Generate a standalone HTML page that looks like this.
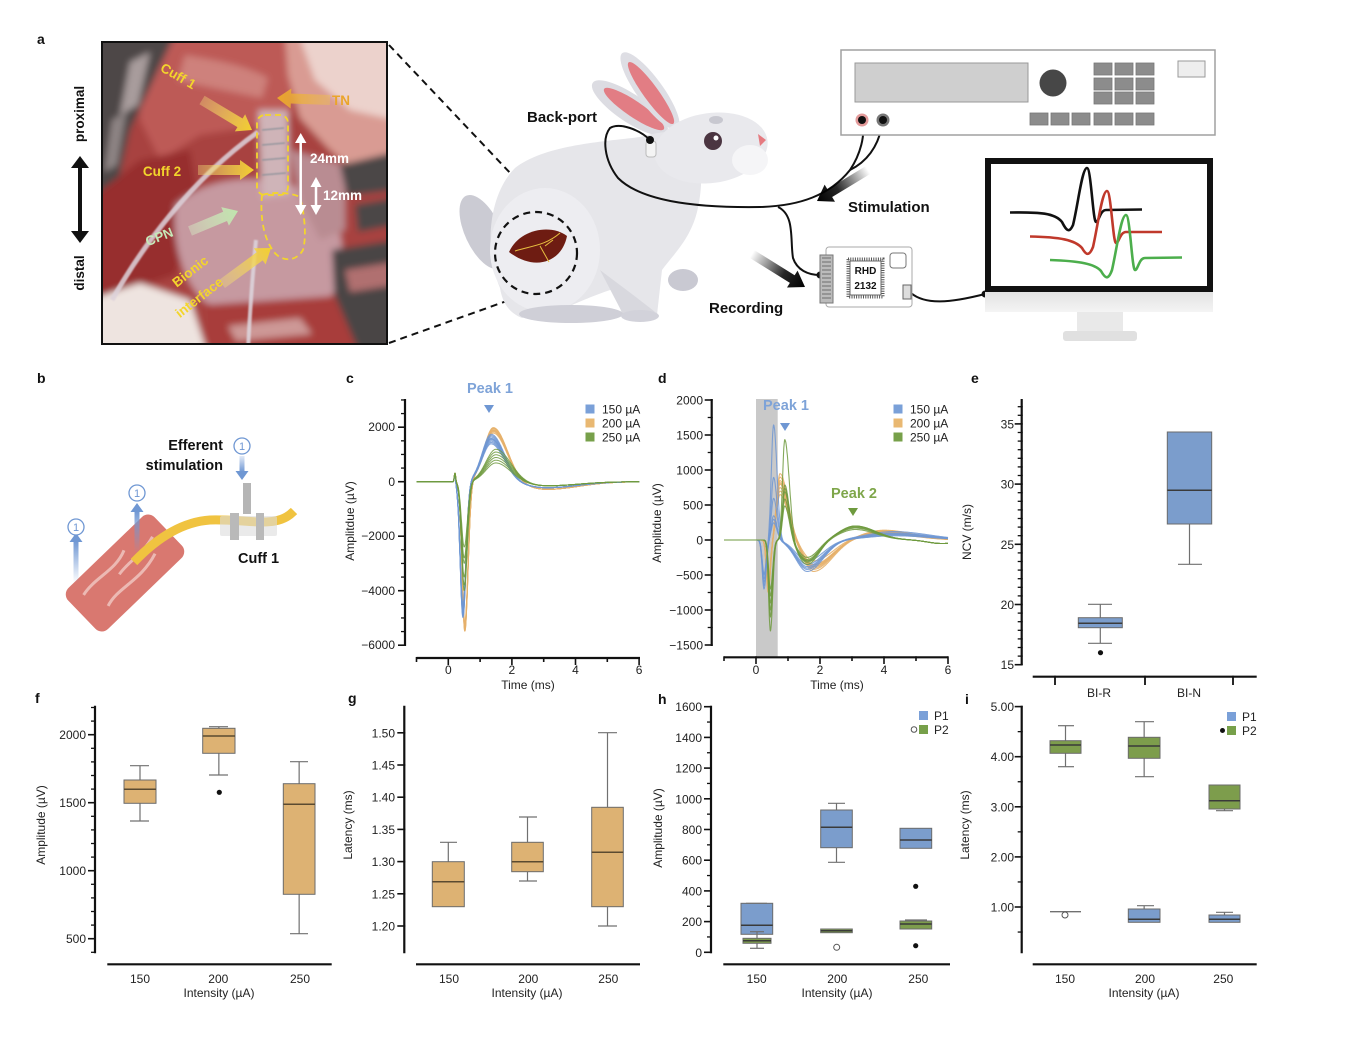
<!DOCTYPE html>
<html><head><meta charset="utf-8">
<style>
html,body{margin:0;padding:0;background:#fff;}
svg{display:block;font-family:"Liberation Sans",Arial,sans-serif;}
.tk{font-size:12px;fill:#222;}
.pl{font-size:14px;font-weight:bold;fill:#111;}
.at{font-size:12px;fill:#222;}
.bb{font-weight:bold;fill:#111;}
</style></head><body>
<svg id="S" width="1350" height="1038" viewBox="0 0 1350 1038" xmlns="http://www.w3.org/2000/svg">
<defs>
<clipPath id="ph"><rect x="102" y="42" width="285" height="302"/></clipPath>
<filter id="bl" x="-10%" y="-10%" width="120%" height="120%"><feGaussianBlur stdDeviation="3.5"/></filter>
<filter id="bl1"><feGaussianBlur stdDeviation="0.8"/></filter>
<linearGradient id="gy" x1="0" y1="0" x2="1" y2="0"><stop offset="0" stop-color="#f6e27a" stop-opacity=".35"/><stop offset="1" stop-color="#f3cf2e"/></linearGradient>
<linearGradient id="go" x1="0" y1="0" x2="1" y2="0"><stop offset="0" stop-color="#f0c24a" stop-opacity=".4"/><stop offset="1" stop-color="#eaa52a"/></linearGradient>
<linearGradient id="gg" x1="0" y1="0" x2="1" y2="0"><stop offset="0" stop-color="#d8f2c8" stop-opacity=".4"/><stop offset="1" stop-color="#bfe6ad"/></linearGradient>
<linearGradient id="gk" x1="0" y1="0" x2="1" y2="0"><stop offset="0" stop-color="#000" stop-opacity="0"/><stop offset=".6" stop-color="#000" stop-opacity=".85"/><stop offset="1" stop-color="#000"/></linearGradient>
<linearGradient id="gbU" x1="0" y1="1" x2="0" y2="0"><stop offset="0" stop-color="#6f97d3" stop-opacity="0"/><stop offset="1" stop-color="#6f97d3"/></linearGradient>
<linearGradient id="gbD" x1="0" y1="0" x2="0" y2="1"><stop offset="0" stop-color="#6f97d3" stop-opacity=".2"/><stop offset="1" stop-color="#6f97d3"/></linearGradient>
<linearGradient id="mb" x1="0" y1="0" x2="0" y2="1"><stop offset="0" stop-color="#e2e2e2"/><stop offset="1" stop-color="#f4f4f4"/></linearGradient>
</defs>
<rect width="1350" height="1038" fill="#fff"/>

<!-- ================= PANEL A PHOTO ================= -->
<g clip-path="url(#ph)">
 <g filter="url(#bl)">
  <rect x="95" y="35" width="300" height="320" fill="#a8423f"/>
  <path d="M140,35 L295,35 L292,115 L265,125 L200,135 L160,160 L140,120 Z" fill="#bd5a57"/>
  <path d="M185,55 C215,60 245,65 268,78 L262,98 C232,92 202,86 178,80 Z" fill="#d5928a" opacity=".7"/>
  <path d="M285,35 L395,35 L395,185 L360,175 L330,150 L300,118 L288,75 Z" fill="#d99b93"/>
  <path d="M300,38 L395,38 L395,120 L350,110 L315,80 Z" fill="#ecd2cc"/>
  <path d="M95,35 L175,35 L158,70 L130,130 L115,195 L95,205 Z" fill="#4d4747"/>
  <path d="M130,62 L150,52 L138,105 L120,115 Z" fill="#a89c9c"/>
  <path d="M112,120 L126,112 L117,165 L104,172 Z" fill="#8e8484"/>
  <path d="M95,195 L140,160 L190,150 L200,210 L175,275 L125,292 L95,300 Z" fill="#972f2d"/>
  <path d="M175,205 C205,178 255,172 300,188 C340,202 352,250 335,292 C305,322 240,322 205,302 C183,282 172,245 175,205 Z" fill="#c699a0"/>
  <path d="M290,150 L345,165 L345,230 L320,240 L300,200 Z" fill="#b98c92"/>
  <path d="M340,165 L395,152 L395,190 L347,196 Z" fill="#4c4646"/>
  <path d="M355,205 L395,198 L395,225 L358,232 Z" fill="#4c4646"/>
  <path d="M332,250 L395,240 L395,355 L360,355 L335,305 Z" fill="#4a4444"/>
  <path d="M345,270 L395,262 L395,285 L350,292 Z" fill="#b07070"/>
  <path d="M95,298 L140,283 L190,300 L208,355 L95,355 Z" fill="#eee4e0"/>
  <path d="M205,305 L335,296 L360,355 L208,355 Z" fill="#a83e3b"/>
  <path d="M228,326 L300,318 L312,334 L236,341 Z" fill="#e6d6d4" opacity=".6"/>
  <path d="M258,110 L288,110 L290,195 L262,198 Z" fill="#cfb4b8"/>
 </g>
 <g filter="url(#bl1)">
  <path d="M112,300 C140,250 190,180 258,132" stroke="#ddd2da" stroke-width="5" fill="none" opacity=".85"/>
  <path d="M256,240 C252,280 250,310 248,350" stroke="#ddd6de" stroke-width="4" fill="none" opacity=".85"/>
  <path d="M262,130 L284,128 M262,145 L285,143 M262,160 L286,158 M262,175 L286,173" stroke="#8a9098" stroke-width="1.2"/>
 </g>
</g>
<rect x="102" y="42" width="285" height="302" fill="none" stroke="#111" stroke-width="2"/>
<g id="pa"></g>
<!-- dashed outlines -->
<rect x="257" y="115" width="31" height="80" rx="8" fill="none" stroke="#f3d52c" stroke-width="1.8" stroke-dasharray="6,4"/>
<path d="M262,195 C260,215 263,238 274,252 C282,262 296,262 303,250 C307,235 304,212 300,197 C290,192 272,192 262,195 Z" fill="none" stroke="#f3d52c" stroke-width="1.8" stroke-dasharray="6,4"/>
<!-- white double arrows -->
<g fill="#fff" stroke="#fff">
 <line x1="300.7" y1="140" x2="300.7" y2="208" stroke-width="2.5"/>
 <polygon points="295,143 306.4,143 300.7,133" stroke="none"/>
 <polygon points="295,205 306.4,205 300.7,215" stroke="none"/>
 <line x1="316" y1="184" x2="316" y2="208" stroke-width="2.5"/>
 <polygon points="310.5,187 321.5,187 316,177" stroke="none"/>
 <polygon points="310.5,205 321.5,205 316,215" stroke="none"/>
</g>
<text x="310" y="163" font-size="13.5" font-weight="bold" fill="#fff">24mm</text>
<text x="323" y="200" font-size="13.5" font-weight="bold" fill="#fff">12mm</text>
<text transform="translate(176,80) rotate(30)" text-anchor="middle" font-size="13.5" font-weight="bold" fill="#f3d52c">Cuff 1</text>
<text x="341" y="105" text-anchor="middle" font-size="13.5" font-weight="bold" fill="#eaa52a">TN</text>
<text x="162" y="176" text-anchor="middle" font-size="13.5" font-weight="bold" fill="#f3d52c">Cuff 2</text>
<text transform="translate(161,241) rotate(-22)" text-anchor="middle" font-size="13.5" font-weight="bold" fill="#c6e8b8">CPN</text>
<text transform="translate(193,275) rotate(-38)" text-anchor="middle" font-size="13.5" font-weight="bold" fill="#f3d52c">Bionic</text>
<text transform="translate(202,301) rotate(-38)" text-anchor="middle" font-size="13.5" font-weight="bold" fill="#f3d52c">interface</text>
<!-- proximal / distal -->
<text transform="translate(84,114) rotate(-90)" text-anchor="middle" font-size="13.5" font-weight="bold" fill="#111">proximal</text>
<text transform="translate(84,273) rotate(-90)" text-anchor="middle" font-size="13.5" font-weight="bold" fill="#111">distal</text>
<line x1="80" y1="166" x2="80" y2="233" stroke="#111" stroke-width="4"/>
<polygon points="71,168 89,168 80,156" fill="#111"/>
<polygon points="71,231 89,231 80,243" fill="#111"/>
<text x="37" y="44" class="pl">a</text>

<!-- dashed zoom lines -->
<line x1="389" y1="45" x2="566" y2="232" stroke="#111" stroke-width="2" stroke-dasharray="7,5"/>
<line x1="389" y1="343" x2="532" y2="292" stroke="#111" stroke-width="2" stroke-dasharray="7,5"/>

<!-- ================= RABBIT ================= -->
<g>
 <ellipse cx="483" cy="232" rx="18" ry="40" transform="rotate(-25 483 232)" fill="#cbcbd3"/>
 <ellipse cx="630" cy="108" rx="45" ry="14" transform="rotate(34 630 108)" fill="#dcdce2"/>
 <ellipse cx="634" cy="109" rx="36" ry="8" transform="rotate(34 634 109)" fill="#e27d84"/>
 <path d="M500,288 C484,250 488,195 515,168 C545,145 600,142 640,137 C662,131 680,128 695,142 C704,162 702,192 697,212 C690,240 672,256 662,270 L657,315 L622,318 L617,288 C602,292 584,300 572,305 L522,318 C507,312 502,300 500,288 Z" fill="#e6e6ea"/>
 <ellipse cx="545" cy="250" rx="55" ry="62" fill="#ededf1"/>
 <path d="M600,270 C620,285 640,300 655,312 L625,318 Z" fill="#d8d8de"/>
 <ellipse cx="571" cy="314" rx="52" ry="9" fill="#cfcfd7"/>
 <ellipse cx="640" cy="316" rx="19" ry="6" fill="#d2d2da"/>
 <ellipse cx="683" cy="280" rx="15" ry="11" fill="#c9c9d2"/>
 <ellipse cx="650" cy="91" rx="47" ry="13" transform="rotate(54 650 91)" fill="#dedee4"/>
 <ellipse cx="651" cy="93" rx="38" ry="7.5" transform="rotate(54 651 93)" fill="#e27d84"/>
 <ellipse cx="711" cy="148" rx="57" ry="35" transform="rotate(-8 711 148)" fill="#e9e9ed"/>
 <ellipse cx="716" cy="120" rx="7" ry="4" fill="#c8c8d0"/>
 <ellipse cx="750" cy="160" rx="18" ry="15" fill="#f5f5f7"/>
 <path d="M758,134 L766,140 L760,146 Z" fill="#e57a80"/>
 <circle cx="713" cy="141" r="9" fill="#4b3541"/>
 <circle cx="716" cy="138" r="2.5" fill="#fff"/>
 <path d="M509,252 C520,228 552,224 567,236 C562,262 535,272 509,252 Z" fill="#6e1c12"/>
 <path d="M515,251 C530,246 545,246 560,233 M540,246 L549,262 M545,246 L553,240" stroke="#e8c040" stroke-width="1" fill="none"/>
 <circle cx="536" cy="253" r="41" fill="none" stroke="#111" stroke-width="2.2" stroke-dasharray="7,5"/>
 <rect x="646" y="141" width="10" height="16" rx="3" fill="#f4f4f4" stroke="#bbb"/>
</g>
<!-- wires -->
<g fill="none" stroke="#111" stroke-width="2">
 <path d="M650,140 C640,130 620,122 610,128 C602,138 604,160 618,178 C640,200 690,208 760,207 C800,206 830,195 850,170 C860,155 866,135 862,120"/>
 <path d="M883,120 C880,142 870,160 850,170"/>
 <path d="M778,207 C795,215 790,240 793,258 C797,270 808,275 820,275"/>
 <path d="M911,293 C925,305 950,303 985,294"/>
</g>
<circle cx="650" cy="140" r="4" fill="#111"/>
<circle cx="820" cy="275" r="3.5" fill="#111"/>
<circle cx="985" cy="294" r="3.5" fill="#111"/>
<text x="527" y="122" font-size="15" class="bb">Back-port</text>
<text x="848" y="212" font-size="15" class="bb">Stimulation</text>
<text x="709" y="313" font-size="15" class="bb">Recording</text>
<g id="bk"></g>

<!-- stimulator -->
<rect x="841" y="50" width="374" height="85" fill="#fff" stroke="#a0a0a0" stroke-width="1.5"/>
<rect x="855" y="63" width="173" height="39" fill="#cfcfcf" stroke="#999"/>
<circle cx="1053" cy="83" r="13.5" fill="#474747"/>
<g fill="#8c8c8c" stroke="#777" stroke-width=".8">
 <rect x="1094" y="63" width="18" height="12"/><rect x="1115" y="63" width="18" height="12"/><rect x="1136" y="63" width="18" height="12"/>
 <rect x="1094" y="78" width="18" height="12"/><rect x="1115" y="78" width="18" height="12"/><rect x="1136" y="78" width="18" height="12"/>
 <rect x="1094" y="92" width="18" height="12"/><rect x="1115" y="92" width="18" height="12"/><rect x="1136" y="92" width="18" height="12"/>
 <rect x="1030" y="113" width="18" height="12"/><rect x="1051" y="113" width="18" height="12"/><rect x="1072" y="113" width="18" height="12"/>
 <rect x="1094" y="113" width="18" height="12"/><rect x="1115" y="113" width="18" height="12"/><rect x="1136" y="113" width="18" height="12"/>
</g>
<rect x="1178" y="61" width="27" height="16" fill="#eee" stroke="#999"/>
<circle cx="862" cy="120" r="6.5" fill="#e39a9a"/><circle cx="862" cy="120" r="4" fill="#111"/>
<circle cx="883" cy="120" r="6.5" fill="#777"/><circle cx="883" cy="120" r="4" fill="#111"/>

<!-- chip board -->
<rect x="826" y="247" width="86" height="60" rx="3" fill="#fff" stroke="#aaa"/>
<rect x="820" y="255" width="13" height="48" fill="#bbb" stroke="#777"/>
<path d="M822,258 h9 M822,262 h9 M822,266 h9 M822,270 h9 M822,274 h9 M822,278 h9 M822,282 h9 M822,286 h9 M822,290 h9 M822,294 h9 M822,298 h9" stroke="#555" stroke-width=".8"/>
<rect x="848" y="259" width="35" height="38" fill="#fff" stroke="#555" stroke-dasharray="1,1.3" stroke-width="3"/>
<rect x="850" y="261" width="31" height="34" fill="#fff" stroke="#444" stroke-width=".8"/>
<text x="865.5" y="274" text-anchor="middle" font-size="10" class="bb">RHD</text>
<text x="865.5" y="289" text-anchor="middle" font-size="10" class="bb">2132</text>
<rect x="890" y="253" width="16" height="15" rx="3" fill="#fff" stroke="#777"/>
<rect x="903" y="285" width="8" height="14" fill="#ddd" stroke="#666"/>

<!-- monitor -->
<rect x="985" y="291" width="228" height="21" fill="url(#mb)"/>
<rect x="1077" y="312" width="46" height="19" fill="#e9e9e9"/>
<rect x="1063" y="331" width="74" height="10" rx="3" fill="#e0e0e0"/>
<rect x="988" y="161" width="222" height="128" fill="#fff" stroke="#111" stroke-width="6"/>
<g fill="none" stroke-width="2.6" stroke-linejoin="round">
 <path d="M1010,212.5 C1040,212 1055,213 1062,222 C1066,230 1069,234 1073,225 C1078,205 1082,168 1087,168 C1091,168 1093,222 1096,222 C1099,222 1100,210 1106,210 L1142,209.5" stroke="#111"/>
 <path d="M1030,236.5 C1060,237 1075,240 1082,248 C1086,255 1089,257 1093,247 C1098,225 1102,191 1107,191 C1111,191 1113,243 1116,243 C1119,243 1120,232 1126,232 L1162,232" stroke="#c0392b"/>
 <path d="M1050,260 C1080,261 1095,264 1101,271 C1105,278 1108,281 1112,270 C1117,248 1121,215 1126,215 C1130,215 1132,270 1135,270 C1138,270 1139,258 1145,258 L1182,257.5" stroke="#4cae4c"/>
</g>

<!-- ================= PANEL B ================= -->
<text x="37" y="383" class="pl">b</text>
<g transform="rotate(-44 125 573)">
 <rect x="65" y="544.5" width="120" height="57" rx="9" fill="#d97870"/>
 <path d="M80,560 C100,555 120,565 140,556 M90,585 C110,578 130,590 160,580 M120,570 C135,567 150,572 170,566" stroke="#f4d4d0" stroke-width="3" fill="none" opacity=".7"/>
</g>
<path d="M134,562 C155,540 180,522 210,520 C235,519 260,524 275,521 C285,519 290,515 294,511" stroke="#f0c340" stroke-width="9" fill="none"/>
<rect x="243" y="483" width="8" height="31" fill="#b5b5b5"/>
<rect x="220" y="516" width="57" height="20" rx="2" fill="#dcdcdc" opacity=".6"/>
<rect x="230" y="513" width="9" height="27" fill="#b9b9b9"/>
<rect x="256" y="513" width="8" height="27" fill="#b9b9b9"/>
<!-- blue arrows -->
<rect x="239.5" y="456" width="5" height="16" fill="url(#gbD)"/>
<polygon points="235.5,471 248.5,471 242,480" fill="#6f97d3"/>
<rect x="134.5" y="511" width="5" height="42" fill="url(#gbU)"/>
<polygon points="130.5,512 143.5,512 137,503" fill="#6f97d3"/>
<rect x="73.5" y="541" width="5" height="42" fill="url(#gbU)"/>
<polygon points="69.5,542 82.5,542 76,533" fill="#6f97d3"/>
<g fill="#fff" stroke="#6f97d3" stroke-width="1.3">
 <circle cx="242" cy="446" r="8"/><circle cx="137" cy="493" r="8"/><circle cx="76" cy="527" r="8"/>
</g>
<g font-size="11" fill="#6f97d3" text-anchor="middle">
 <text x="242" y="450">1</text><text x="137" y="497">1</text><text x="76" y="531">1</text>
</g>
<text x="223" y="450" text-anchor="end" font-size="14.5" class="bb">Efferent</text>
<text x="223" y="470" text-anchor="end" font-size="14.5" class="bb">stimulation</text>
<text x="238" y="563" font-size="14.5" class="bb">Cuff 1</text>

<!-- ================= PLOTS (JS ticks/traces) ================= -->
<rect x="756" y="399" width="21.7" height="259" fill="#c9c9c9"/>
<g id="tr"></g>
<g id="ax"></g>
<g id="bx"></g>

<!-- panel labels -->
<text x="346" y="383" class="pl">c</text>
<text x="658" y="383" class="pl">d</text>
<text x="971" y="383" class="pl">e</text>
<text x="35" y="703" class="pl">f</text>
<text x="348" y="703" class="pl">g</text>
<text x="658" y="704" class="pl">h</text>
<text x="965" y="704" class="pl">i</text>

<!-- c labels -->
<g class="tk" text-anchor="end">
 <text x="395" y="431">2000</text><text x="395" y="486">0</text><text x="395" y="540">−2000</text><text x="395" y="595">−4000</text><text x="395" y="649">−6000</text>
</g>
<g class="tk" text-anchor="middle">
 <text x="448.3" y="674">0</text><text x="511.9" y="674">2</text><text x="575.5" y="674">4</text><text x="639.1" y="674">6</text>
</g>
<text x="528" y="689" class="at" text-anchor="middle">Time (ms)</text>
<text transform="translate(354,521) rotate(-90)" class="at" text-anchor="middle">Amplitdue (µV)</text>
<text x="490" y="393" text-anchor="middle" font-size="14.5" font-weight="bold" fill="#7ea3d8">Peak 1</text>
<polygon points="484,405 494,405 489,413" fill="#6f97d3"/>
<rect x="585.5" y="404.5" width="9" height="9" fill="#7aa0d8"/>
<rect x="585.5" y="418.5" width="9" height="9" fill="#e9b872"/>
<rect x="585.5" y="432.5" width="9" height="9" fill="#77a04a"/>
<g class="tk"><text x="602" y="413.5">150 µA</text><text x="602" y="427.5">200 µA</text><text x="602" y="441.5">250 µA</text></g>

<!-- d labels -->
<g class="tk" text-anchor="end">
 <text x="703" y="404.5">2000</text><text x="703" y="439.5">1500</text><text x="703" y="474.5">1000</text><text x="703" y="509.5">500</text><text x="703" y="544.5">0</text><text x="703" y="579.5">−500</text><text x="703" y="614.5">−1000</text><text x="703" y="649.5">−1500</text>
</g>
<g class="tk" text-anchor="middle">
 <text x="756" y="674">0</text><text x="820" y="674">2</text><text x="884" y="674">4</text><text x="948" y="674">6</text>
</g>
<text x="837" y="689" class="at" text-anchor="middle">Time (ms)</text>
<text transform="translate(661,523) rotate(-90)" class="at" text-anchor="middle">Amplitdue (µV)</text>
<text x="786" y="410" text-anchor="middle" font-size="14.5" font-weight="bold" fill="#7ea3d8">Peak 1</text>
<polygon points="780,423 790,423 785,431" fill="#6f97d3"/>
<text x="854" y="498" text-anchor="middle" font-size="14.5" font-weight="bold" fill="#7ea64a">Peak 2</text>
<polygon points="848,508 858,508 853,516" fill="#6e9a3e"/>
<rect x="893.5" y="404.5" width="9" height="9" fill="#7aa0d8"/>
<rect x="893.5" y="418.5" width="9" height="9" fill="#e9b872"/>
<rect x="893.5" y="432.5" width="9" height="9" fill="#77a04a"/>
<g class="tk"><text x="910" y="413.5">150 µA</text><text x="910" y="427.5">200 µA</text><text x="910" y="441.5">250 µA</text></g>

<!-- e labels -->
<g class="tk" text-anchor="end">
 <text x="1014" y="428.4">35</text><text x="1014" y="488.6">30</text><text x="1014" y="548.8">25</text><text x="1014" y="609">20</text><text x="1014" y="669.2">15</text>
</g>
<g class="tk" text-anchor="middle"><text x="1099" y="697">BI-R</text><text x="1189" y="697">BI-N</text></g>
<text transform="translate(971,532) rotate(-90)" class="at" text-anchor="middle">NCV (m/s)</text>

<!-- f labels -->
<g class="tk" text-anchor="end">
 <text x="86" y="739.2">2000</text><text x="86" y="807.2">1500</text><text x="86" y="875.2">1000</text><text x="86" y="943.2">500</text>
</g>
<g class="tk" text-anchor="middle"><text x="140" y="983">150</text><text x="218.3" y="983">200</text><text x="300" y="983">250</text></g>
<text x="219" y="997" class="at" text-anchor="middle">Intensity (µA)</text>
<text transform="translate(45,825) rotate(-90)" class="at" text-anchor="middle">Amplitude (µV)</text>

<!-- g labels -->
<g class="tk" text-anchor="end">
 <text x="395" y="737.3">1.50</text><text x="395" y="769.5">1.45</text><text x="395" y="801.7">1.40</text><text x="395" y="833.9">1.35</text><text x="395" y="866.1">1.30</text><text x="395" y="898.3">1.25</text><text x="395" y="930.5">1.20</text>
</g>
<g class="tk" text-anchor="middle"><text x="449" y="983">150</text><text x="528.3" y="983">200</text><text x="608.3" y="983">250</text></g>
<text x="527" y="997" class="at" text-anchor="middle">Intensity (µA)</text>
<text transform="translate(352,825) rotate(-90)" class="at" text-anchor="middle">Latency (ms)</text>

<!-- h labels -->
<g class="tk" text-anchor="end">
 <text x="702" y="711.2">1600</text><text x="702" y="741.9">1400</text><text x="702" y="772.6">1200</text><text x="702" y="803.3">1000</text><text x="702" y="834">800</text><text x="702" y="864.7">600</text><text x="702" y="895.4">400</text><text x="702" y="926.1">200</text><text x="702" y="956.8">0</text>
</g>
<g class="tk" text-anchor="middle"><text x="756.7" y="983">150</text><text x="837.3" y="983">200</text><text x="918.3" y="983">250</text></g>
<text x="837" y="997" class="at" text-anchor="middle">Intensity (µA)</text>
<text transform="translate(662,828) rotate(-90)" class="at" text-anchor="middle">Amplitude (µV)</text>
<rect x="919" y="711" width="9" height="9" fill="#7aa0d8"/>
<rect x="919" y="725" width="9" height="9" fill="#77a04a"/>
<circle cx="914" cy="729.5" r="2.8" fill="#fff" stroke="#555" stroke-width="1"/>
<g class="tk"><text x="934" y="720">P1</text><text x="934" y="734">P2</text></g>

<!-- i labels -->
<g class="tk" text-anchor="end">
 <text x="1014" y="711.1">5.00</text><text x="1014" y="761.2">4.00</text><text x="1014" y="811.3">3.00</text><text x="1014" y="861.4">2.00</text><text x="1014" y="911.5">1.00</text>
</g>
<g class="tk" text-anchor="middle"><text x="1065" y="983">150</text><text x="1145" y="983">200</text><text x="1223.3" y="983">250</text></g>
<text x="1144" y="997" class="at" text-anchor="middle">Intensity (µA)</text>
<text transform="translate(969,825) rotate(-90)" class="at" text-anchor="middle">Latency (ms)</text>
<rect x="1227" y="712" width="9" height="9" fill="#7aa0d8"/>
<rect x="1227" y="726" width="9" height="9" fill="#77a04a"/>
<circle cx="1222.5" cy="730.5" r="2.5" fill="#111"/>
<g class="tk"><text x="1242" y="721">P1</text><text x="1242" y="735">P2</text></g>
</svg>
<script>
(function(){
const NS="http://www.w3.org/2000/svg";
function el(tag,a,p){const e=document.createElementNS(NS,tag);for(const k in a)e.setAttribute(k,a[k]);p.appendChild(e);return e;}
const PA=document.getElementById('pa'),BK=document.getElementById('bk'),TR=document.getElementById('tr'),AX=document.getElementById('ax'),BX=document.getElementById('bx');
function arrow(g,x1,y1,x2,y2,sw,hw,hl,fill){
 const L=Math.hypot(x2-x1,y2-y1),a=Math.atan2(y2-y1,x2-x1)*180/Math.PI;
 const p=`0,${-sw} ${L-hl},${-sw} ${L-hl},${-hw} ${L},0 ${L-hl},${hw} ${L-hl},${sw} 0,${sw}`;
 el('polygon',{points:p,fill:fill,transform:`translate(${x1},${y1}) rotate(${a})`},g);
}
arrow(PA,202,100,252,130,5,10,14,'url(#gy)');
arrow(PA,330,100,277,98,5,10,14,'url(#go)');
arrow(PA,198,170,254,170,5,10,14,'url(#gy)');
arrow(PA,190,231,238,211,5,10,14,'url(#gg)');
arrow(PA,222,284,271,248,5,10,14,'url(#gy)');
arrow(BK,868,170,817,201,4.5,10,15,'url(#gk)');
arrow(BK,752,254,805,287,4.5,10,15,'url(#gk)');

function ln(g,x1,y1,x2,y2,w,c){return el('line',{x1:x1,y1:y1,x2:x2,y2:y2,stroke:c||'#111','stroke-width':w},g);}
function yAxis(x,y0,y1,maj,mino,Y){ln(AX,x,y0,x,y1,2.2);maj.forEach(v=>ln(AX,x-7,Y(v),x+1,Y(v),1.6));mino.forEach(v=>ln(AX,x-4,Y(v),x+1,Y(v),1.3));}
function rng(a,b,s){const r=[];for(let v=a;v<=b+1e-9;v+=s)r.push(+v.toFixed(6));return r;}
function gs(t,c,sl,sr){const s=t<c?sl:sr;const z=(t-c)/s;return Math.exp(-z*z);}
function tr(f,X,Y,col,w,op){let d='';let i=0;for(let t=-1;t<=6.0001;t+=0.01){d+=(i++?'L':'M')+X(t).toFixed(1)+','+Y(f(t)).toFixed(1);}el('path',{d:d,fill:'none',stroke:col,'stroke-width':w,'stroke-opacity':op,'stroke-linejoin':'round'},TR);}

const Xc=t=>448.3+31.8*t,Yc=v=>481.7-v*0.02725;
yAxis(405,399,646,[-6000,-4000,-2000,0,2000],rng(-5500,3000,500).filter(v=>v%2000!==0),Yc);
ln(AX,416.5,658,640,658,2.2);
for(let t=-1;t<=6;t++){ln(AX,Xc(t),657,Xc(t),t%2===0?665:662,1.6);}
const BL='#6f97d3',OR='#e6b06a',GR='#6e9a3e';
const fc=(N,tm,P,tp,U,sp)=>t=>t<0.15?0:(320*gs(t,0.21,0.03,0.03)-N*gs(t,tm,0.12,0.14)+P*gs(t,tp,sp,sp*1.45)-U*gs(t,3.1,1.0,1.4));
[[5300,1850],[5400,1900],[5500,1960],[5250,2000],[5450,1800],[5350,1980],[5500,1920],[5200,1880]].forEach(([N,P])=>tr(fc(N,0.52,P,1.42,280,0.42),Xc,Yc,OR,1.1,0.9));
[[4600,1400],[4700,1500],[4800,1550],[4900,1600],[5000,1650],[4500,1700],[4750,1450],[4850,1750],[4950,1580]].forEach(([N,P])=>tr(fc(N,0.46,P,1.35,220,0.4),Xc,Yc,BL,1.1,0.85));
[[2400,700],[3000,800],[3500,900],[4000,1000],[3800,1100],[2800,1200]].forEach(([N,P])=>tr(fc(N,0.5,P,1.5,150,0.45),Xc,Yc,GR,1,0.85));

const Xd=t=>756+32*t,Yd=v=>540-0.07*v;
yAxis(711.7,399,646,rng(-1500,2000,500),rng(-1250,1750,500),Yd);
ln(AX,724,657.3,948,657.3,2.2);
for(let t=-1;t<=6;t++){ln(AX,Xd(t),656.3,Xd(t),t%2===0?664:661,1.6);}
const fd=(D,td,P,tp,spl,spr,T,tt,tsl,tsr,Q,tq,sq)=>t=>t<0?0:(-D*gs(t,td,0.08,0.1)+P*gs(t,tp,spl,spr)-T*gs(t,tt,tsl,tsr)+Q*gs(t,tq,sq,sq*1.3));
[[700,950,400,130],[650,850,380,120],[600,800,420,140],[750,700,350,100],[550,750,450,110],[680,900,300,130],[620,650,380,120],[700,820,360,90]].forEach(([D,P,T,Q])=>tr(fd(D,0.38,P,0.75,0.15,0.35,T,1.8,0.45,0.8,Q,4.0,1.0),Xd,Yd,OR,1.1,0.9));
[[500,1650,450,100],[600,900,420,80],[650,300,380,120],[700,350,350,60],[550,250,400,90],[480,600,300,70]].forEach(([D,P,T,Q])=>tr(fd(D,0.25,P,0.55,0.1,0.15,T,1.6,0.5,0.7,Q,4.3,1.2),Xd,Yd,BL,1.1,0.85));
[[1300,1450,350,200],[1000,800,300,180],[800,700,250,190],[1100,600,320,150],[700,500,280,200],[900,750,300,170]].forEach(([D,P,T,Q])=>tr(t=>fd(D,0.45,P,0.9,0.1,0.2,T,1.6,0.4,0.5,Q,3.1,0.7)(t)-(t>0?50*gs(t,5.8,0.6,1):0),Xd,Yd,GR,1.1,0.85));

const Ye=v=>664.7-(v-15)*12.04;
const emin=[];for(let v=15;v<=37.01;v+=5/7){const r=Math.round(v*7)/7;if(Math.abs(r-Math.round(r/5)*5)>0.05)emin.push(r);}
yAxis(1021.7,399,665,[15,20,25,30,35],emin,Ye);
ln(AX,1032.7,676.7,1256.7,676.7,2.2);
[1055,1145,1233].forEach(x=>ln(AX,x,675.7,x,685,1.8));
const Yf=v=>870.7-(v-1000)*0.136;
yAxis(95,705.7,953.3,[500,1000,1500,2000],rng(400,2200,100).filter(v=>v%500!==0),Yf);
ln(AX,107.3,964.3,331.7,964.3,2.2);
const Yg=v=>926-(v-1.2)*644;
yAxis(404.3,705.7,953.3,rng(1.2,1.5,0.05),[],Yg);
ln(AX,416,964.3,640,964.3,2.2);
const Yh=v=>952.3-v*0.1535;
yAxis(711,705.7,953.3,rng(0,1600,200),rng(100,1500,200),Yh);
ln(AX,723.3,964.3,950,964.3,2.2);
const Yi=v=>907-(v-1)*50.1;
yAxis(1021.7,705.7,953.3,[1,2,3,4,5],[0.5,1.5,2.5,3.5,4.5],Yi);
ln(AX,1032.7,964.3,1256.7,964.3,2.2);

const WC='#707070';
function box(xl,xr,q3,q1,md,wt,wb,cl,cr,fill,mc){
 const cx=(xl+xr)/2;
 if(wt!=null){ln(BX,cx,wt,cx,q3,1.2,WC);ln(BX,cl,wt,cr,wt,1.2,WC);}
 if(wb!=null){ln(BX,cx,q1,cx,wb,1.2,WC);ln(BX,cl,wb,cr,wb,1.2,WC);}
 el('rect',{x:xl,y:q3,width:xr-xl,height:q1-q3,fill:fill,stroke:'#6b6b6b','stroke-width':1},BX);
 ln(BX,xl,md,xr,md,1.5,mc||'#3a3a3a');
}
function dot(x,y,open){el('circle',{cx:x,cy:y,r:open?3:2.6,fill:open?'#fff':'#111',stroke:open?'#555':'none','stroke-width':1},BX);}
const BF='#7b9dcc',OF='#ddb273',GF='#7d9d4c';
box(1078.3,1122.3,617.7,627.7,623.3,604.3,643.3,1088,1112,BF);dot(1100.5,652.7);
box(1167.3,1211.7,432,524,490.3,null,564.3,1178,1202,BF);
box(124,156,780,803.3,789.3,765.7,821,130,149,OF,'#5a4a30');
box(202.7,235,728.3,753.3,736,726.7,775,209,228,OF,'#5a4a30');dot(219.3,792.3);
box(283.3,315,783.7,894.3,804.3,761.7,933.7,290,308,OF,'#5a4a30');
box(432.3,464.3,861.7,906.7,881.7,842.3,null,440,457,OF,'#5a4a30');
box(511.7,543.3,842.3,871.7,861.7,817,881,519,537,OF,'#5a4a30');
box(591.7,623.3,807.3,906.7,852.3,732.7,926,598,617,OF,'#5a4a30');
box(741,772.7,903.3,934.3,925.3,null,null,0,0,BF);ln(BX,746,903.3,767,903.3,1.2,WC);
box(743,771,938.3,943.3,940.7,931.7,948.3,750,764,GF);
box(820.7,852.3,810,847.7,827.3,803.3,862.3,828,845,BF);
box(820.7,852.3,929,932.7,930.7,null,null,0,0,GF);dot(836.7,947.3,true);
box(900,931.7,828.3,848.3,840,null,null,0,0,BF);dot(915.7,886.3);
box(900,931.7,921,929,924,920,null,905,927,GF);dot(915.7,945.7);
box(1050,1081,740.7,753.3,745,725.7,766.7,1058,1074,GF);
box(1128.3,1160,737.3,758.3,746,721.7,776.7,1135,1154,GF);
box(1209,1240,785,809,800.7,null,810.7,1216,1233,GF);
ln(BX,1050,911.7,1081,911.7,1.3,WC);dot(1065,915,true);
box(1128.3,1160,909,922.3,919.3,905.7,null,1137,1154,BF);
box(1209,1240,915,922.3,919.3,912.3,null,1216,1233,BF);
})();
</script>
</body></html>
